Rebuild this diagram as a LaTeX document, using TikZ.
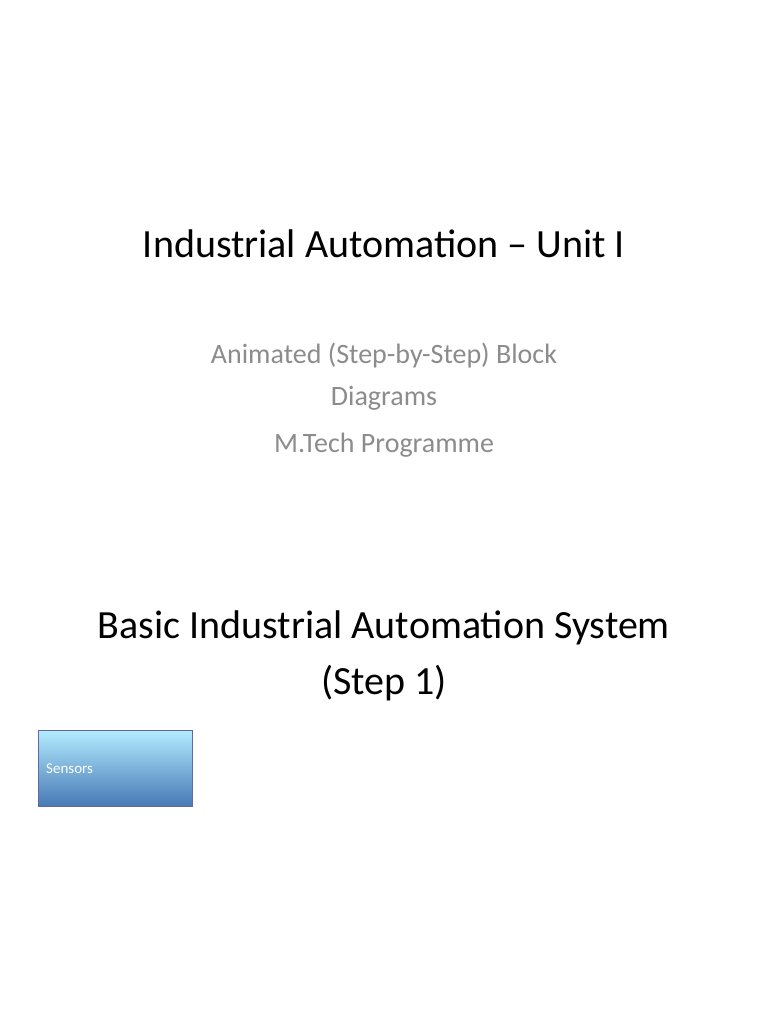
\documentclass[tikz,border=0pt]{standalone}
\usepackage{fontspec}
\setmainfont{Carlito}
\begin{document}
\begin{tikzpicture}[x=1pt,y=-1pt,
  title/.style={font=\fontsize{40}{48}\selectfont,anchor=base,inner sep=0},
  sub/.style={font=\fontsize{28}{34}\selectfont,text=black!45,anchor=base,inner sep=0}]
\useasboundingbox (0,0) rectangle (768,1024);
\fill[white] (0,0) rectangle (768,1024);
\node[title] (t1) at (384,258) {Industrial Automation – Unit I};
\node[sub] (s1) at (384,363) {Animated (Step-by-Step) Block};
\node[sub] (s2) at (384,405) {Diagrams};
\node[sub] (s3) at (384,452) {M.Tech Programme};
\node[title] (t2) at (384,638) {Basic Industrial Automation System};
\node[title] (t3) at (384,694) {(Step 1)};
\shade[top color=blue!25!cyan!30!white, bottom color=blue!55!cyan!60!black!80!white!90, draw=blue!40!black!60] (38,730) rectangle (192,806);
\node[anchor=west,text=white,font=\fontsize{15}{18}\selectfont,inner sep=0] (sen) at (46,769) {Sensors};
\end{tikzpicture}
\end{document}
